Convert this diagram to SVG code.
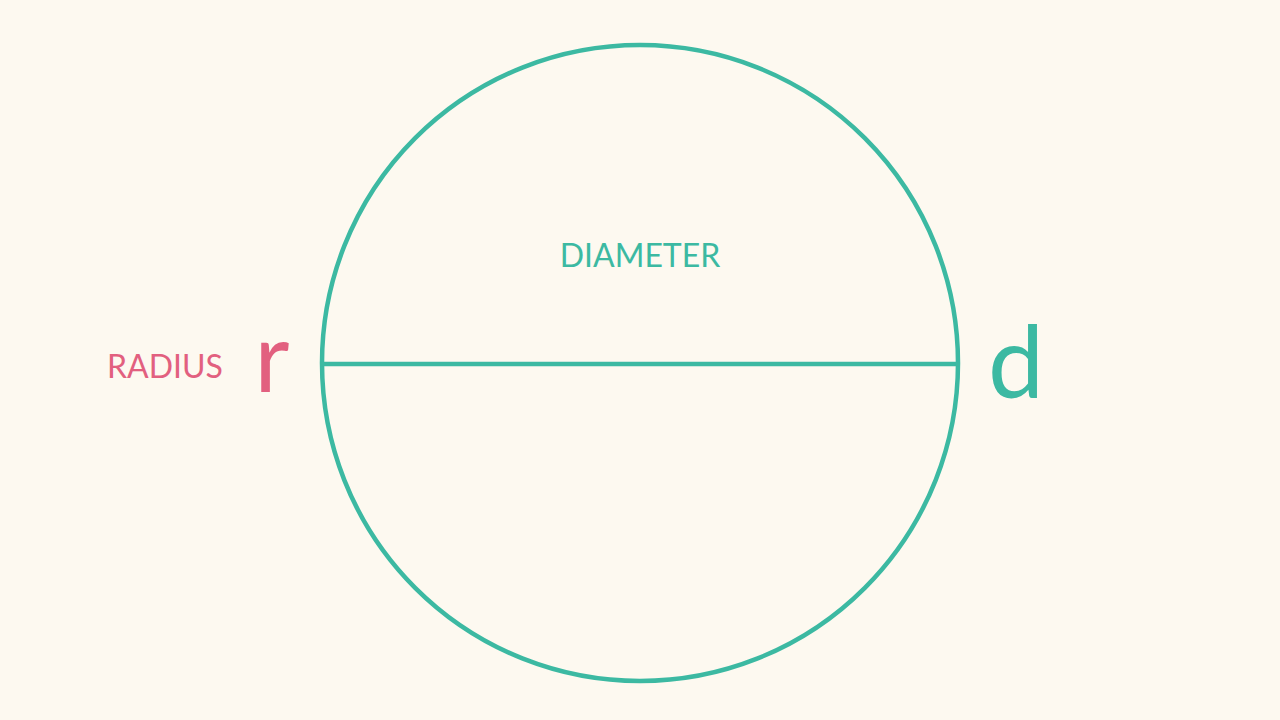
<svg xmlns="http://www.w3.org/2000/svg" width="1280" height="720" viewBox="0 0 1280 720">
<style>
.teal{fill:#3cb9a2;font-family:Lato,"Noto Sans",sans-serif}
.pink{fill:#e2607f;font-family:Lato,"Noto Sans",sans-serif}
.stroke{stroke:#3cb9a2;stroke-width:4.5;fill:none}
</style>
<rect width="1280" height="720" fill="#fdf9f0"/>
<g id="circle"><circle class="stroke" cx="640" cy="363" r="318"/></g>
<g id="connectors"><line class="stroke" x1="321" y1="364" x2="959" y2="364"/></g>
<g id="diameter-label"><text class="teal" x="640" y="267" font-size="32" text-anchor="middle">DIAMETER</text></g>
<g id="radius-label"><text class="pink" x="165" y="378" font-size="32" text-anchor="middle">RADIUS</text></g>
<g id="r-label"><text class="pink" x="272" y="392" font-size="96" text-anchor="middle">r</text></g>
<g id="d-label"><text class="teal" x="1016" y="398" font-size="100" text-anchor="middle">d</text></g>
</svg>
